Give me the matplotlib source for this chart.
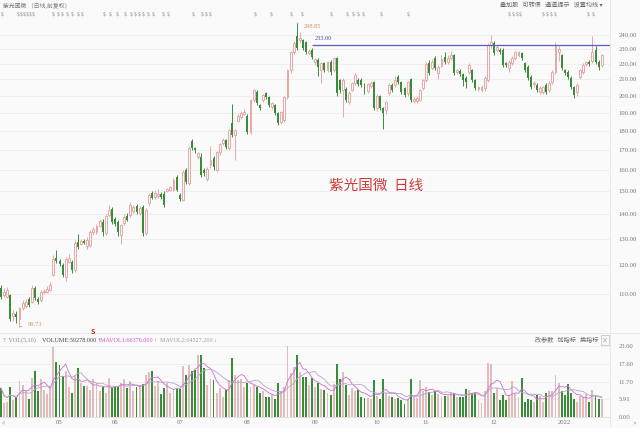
import numpy as np
import pandas as pd
import matplotlib
matplotlib.use('Agg')
import matplotlib.pyplot as plt
import matplotlib.transforms as mtransforms

plt.rcParams['font.family'] = ['Noto Sans CJK SC', 'DejaVu Sans']

# daily candles, 紫光国微, forward adjusted
opens = [112.2, 109.6, 109.2, 109.6, 102.9, 103.8, 102.0, 105.7, 106.3, 108.3,
         107.6, 112.2, 108.3, 108.0, 110.6, 110.9, 111.5, 116.7, 122.8, 121.6,
         120.2, 116.0, 121.3, 121.3, 118.4, 128.8, 128.0, 129.2, 127.3, 127.6,
         132.7, 132.7, 135.1, 136.8, 132.3, 139.7, 142.2, 138.0, 136.8, 131.5,
         136.4, 139.3, 139.7, 141.4, 143.5, 140.5, 143.1, 132.3, 144.8, 149.2,
         147.4, 147.9, 148.8, 148.8, 150.1, 150.6, 150.6, 156.5, 148.3, 146.1,
         159.9, 153.7, 174.4, 170.8, 166.4, 166.4, 159.9, 155.5, 162.3, 165.8,
         159.9, 168.7, 173.3, 174.9, 170.8, 184.1, 177.6, 185.3, 187.4, 189.3,
         188.0, 179.2, 197.3, 202.1, 194.3, 197.3, 201.5, 199.1, 193.1, 194.3,
         189.7, 184.7, 185.8, 199.1, 215.9, 227.9, 239.3, 236.4, 236.4, 235.0,
         227.2, 229.3, 221.2, 222.5, 215.9, 220.5, 215.9, 221.2, 215.9, 223.8,
         209.5, 203.3, 204.2, 196.1, 203.3, 207.7, 209.5, 209.5, 207.0, 202.7,
         205.8, 208.3, 192.6, 199.7, 192.6, 191.4, 201.5, 206.4, 206.4, 211.4,
         208.3, 204.5, 201.5, 210.2, 196.7, 196.7, 197.3, 204.5, 209.5, 220.5,
         217.1, 223.8, 213.9, 218.9, 224.5, 221.2, 223.8, 225.9, 214.6, 215.2,
         213.3, 210.8, 214.6, 215.9, 209.5, 203.9, 203.3, 204.5, 209.5, 232.8,
         234.3, 229.3, 229.3, 229.3, 220.5, 217.1, 220.5, 223.8, 225.9, 227.2,
         220.5, 217.8, 211.4, 207.0, 206.4, 202.1, 202.1, 206.4, 203.3, 208.3,
         214.6, 227.9, 225.9, 215.9, 214.6, 210.8, 205.1, 202.1, 211.4, 214.6,
         219.8, 221.2, 222.0, 229.3, 221.2, 219.2]
highs = [113.2, 112.0, 112.5, 110.2, 105.0, 104.5, 106.0, 108.0, 108.3, 109.0,
         113.0, 112.8, 109.0, 111.5, 111.8, 112.8, 114.0, 123.9, 125.7, 122.5,
         121.0, 123.0, 124.0, 122.0, 129.5, 132.0, 130.0, 129.8, 130.5, 133.5,
         134.5, 136.0, 138.0, 138.0, 140.0, 144.0, 143.0, 138.8, 137.5, 136.0,
         140.0, 140.5, 145.0, 143.8, 144.5, 143.5, 144.0, 142.5, 149.0, 150.0,
         150.5, 151.0, 149.5, 150.0, 151.5, 152.5, 156.0, 157.5, 149.0, 160.0,
         161.0, 172.0, 175.5, 171.5, 169.0, 168.5, 161.0, 161.5, 172.0, 167.0,
         169.5, 173.5, 176.0, 175.5, 181.0, 195.3, 181.0, 189.0, 191.0, 192.0,
         189.5, 198.0, 204.0, 203.5, 195.0, 201.0, 202.0, 200.0, 196.0, 195.0,
         190.5, 191.0, 200.0, 217.0, 229.0, 236.0, 248.85, 242.0, 237.5, 236.0,
         230.0, 230.5, 224.0, 224.0, 221.5, 221.5, 222.0, 222.5, 224.5, 224.5,
         210.5, 211.0, 205.0, 202.5, 208.5, 214.0, 211.0, 211.0, 208.0, 208.0,
         209.0, 209.0, 201.0, 200.5, 193.5, 197.0, 207.5, 207.5, 212.0, 213.0,
         209.0, 205.5, 209.0, 211.0, 199.0, 199.5, 204.0, 210.5, 221.0, 222.5,
         223.0, 225.0, 219.0, 226.0, 228.0, 226.0, 228.5, 227.0, 217.0, 216.5,
         214.0, 212.0, 220.5, 217.0, 210.5, 206.0, 206.5, 212.0, 234.0, 240.0,
         236.0, 233.0, 231.0, 230.5, 221.5, 222.5, 225.0, 229.0, 229.0, 228.0,
         221.5, 219.0, 212.5, 209.0, 207.5, 206.0, 206.0, 207.5, 209.0, 216.0,
         235.0, 232.0, 227.0, 217.0, 216.0, 212.0, 206.0, 207.5, 217.0, 220.5,
         222.0, 222.5, 239.5, 232.0, 222.5, 227.0]
lows = [108.3, 109.0, 108.9, 101.5, 101.5, 101.0, 99.73, 105.0, 105.5, 106.0,
        107.0, 108.0, 106.8, 107.5, 110.0, 110.5, 111.0, 116.3, 121.0, 119.8,
        116.0, 114.6, 120.8, 117.3, 117.8, 126.0, 127.5, 127.8, 126.0, 127.0,
        131.5, 132.0, 134.5, 131.0, 131.5, 139.0, 136.0, 135.0, 131.0, 128.0,
        135.5, 137.0, 139.0, 140.5, 140.0, 139.8, 131.0, 131.5, 144.0, 146.5,
        146.5, 147.0, 146.5, 143.0, 149.5, 150.0, 150.0, 150.0, 145.5, 145.5,
        153.5, 153.0, 170.0, 168.5, 165.5, 156.5, 157.0, 154.5, 161.0, 160.0,
        159.0, 167.5, 172.5, 170.5, 170.0, 176.5, 164.8, 184.5, 186.5, 188.5,
        178.0, 178.0, 196.0, 194.5, 191.5, 196.0, 198.0, 193.5, 192.0, 188.5,
        183.0, 183.5, 185.0, 198.0, 214.0, 227.0, 229.5, 234.0, 229.5, 227.0,
        226.0, 223.5, 219.5, 212.0, 208.0, 214.5, 214.5, 213.0, 215.0, 200.0,
        201.5, 187.4, 196.0, 195.0, 202.5, 206.5, 206.0, 205.5, 201.0, 201.5,
        204.5, 191.5, 191.0, 191.5, 181.1, 189.5, 200.5, 202.0, 205.0, 207.0,
        201.0, 199.0, 200.0, 196.0, 195.5, 195.5, 196.5, 203.5, 208.5, 213.0,
        216.0, 216.0, 210.0, 218.0, 220.0, 220.0, 222.5, 213.0, 213.5, 212.0,
        206.0, 204.5, 213.5, 208.5, 203.5, 202.5, 202.0, 203.0, 208.5, 231.0,
        226.0, 228.0, 226.5, 218.0, 218.0, 214.5, 219.5, 222.5, 224.5, 222.5,
        214.5, 209.5, 204.0, 205.5, 202.0, 201.0, 201.0, 201.0, 202.0, 207.0,
        213.5, 222.0, 216.0, 212.5, 210.0, 204.0, 198.5, 200.0, 210.0, 213.5,
        218.5, 218.5, 220.5, 220.0, 216.0, 218.0]
closes = [109.2, 110.9, 111.5, 102.0, 104.1, 102.6, 105.4, 107.3, 107.6, 106.6,
          112.2, 108.9, 107.6, 110.6, 111.2, 111.8, 113.2, 122.4, 121.6, 120.6,
          116.7, 122.4, 122.8, 118.4, 128.4, 126.9, 129.2, 128.4, 129.6, 132.7,
          133.9, 135.1, 137.2, 132.7, 139.3, 141.8, 136.8, 135.9, 132.7, 135.5,
          138.9, 137.6, 143.9, 143.1, 140.9, 142.6, 132.3, 141.8, 148.3, 147.0,
          149.2, 148.8, 147.4, 143.9, 151.0, 152.0, 155.1, 150.6, 146.6, 158.9,
          154.2, 170.8, 170.8, 169.8, 168.2, 157.5, 158.4, 160.4, 164.8, 161.3,
          168.7, 172.8, 174.9, 171.3, 180.3, 177.6, 180.3, 188.0, 189.9, 190.5,
          179.2, 197.3, 203.3, 195.5, 192.6, 200.3, 199.1, 194.3, 195.5, 189.7,
          184.1, 190.3, 199.1, 215.9, 227.9, 234.3, 230.7, 237.8, 230.7, 227.9,
          228.6, 224.5, 223.1, 217.8, 220.5, 215.9, 221.2, 214.6, 223.8, 201.5,
          203.3, 209.5, 197.3, 201.5, 207.7, 212.7, 207.0, 206.4, 202.1, 207.0,
          207.7, 192.6, 199.7, 192.6, 189.7, 196.1, 206.4, 203.3, 209.5, 208.3,
          202.1, 200.3, 208.3, 197.3, 197.9, 198.5, 203.3, 209.5, 219.8, 213.9,
          221.2, 217.1, 217.8, 223.1, 221.2, 223.8, 225.9, 213.9, 215.9, 213.3,
          209.5, 208.3, 219.2, 209.5, 204.5, 205.1, 205.1, 210.8, 232.8, 235.0,
          227.2, 231.4, 227.9, 219.2, 219.2, 221.2, 223.8, 227.9, 227.9, 223.8,
          215.9, 210.8, 205.1, 207.7, 203.3, 204.5, 205.1, 202.1, 207.7, 214.6,
          232.8, 230.0, 217.1, 213.9, 211.4, 205.1, 200.3, 206.4, 215.9, 219.2,
          221.2, 219.8, 228.0, 221.2, 217.8, 225.9]
# volume in 10k shares
volumes = [9.6, 4.7, 5.0, 9.9, 5.7, 6.7, 12.0, 10.6, 8.5, 6.0,
           12.8, 15.3, 8.5, 12.5, 8.9, 7.6, 9.9, 23.2, 18.3, 17.3,
           13.6, 15.4, 9.9, 7.9, 14.0, 16.2, 11.2, 10.3, 10.3, 8.9,
           12.5, 11.2, 8.5, 9.9, 7.9, 12.9, 9.5, 10.1, 10.1, 11.2,
           12.6, 9.5, 11.8, 8.7, 9.9, 10.6, 10.9, 14.0, 15.0, 15.4,
           10.4, 11.8, 7.7, 9.5, 11.2, 8.1, 9.2, 9.2, 9.2, 16.9,
           14.0, 17.3, 15.4, 15.6, 20.6, 20.6, 16.2, 10.6, 12.5, 12.3,
           7.9, 9.5, 6.7, 8.9, 12.3, 19.5, 14.0, 12.3, 12.5, 9.9,
           11.4, 9.9, 10.6, 9.9, 7.9, 8.7, 6.7, 6.6, 7.7, 5.9,
           11.2, 8.7, 9.9, 23.6, 14.7, 16.7, 20.6, 15.0, 13.2, 13.4,
           10.6, 12.8, 9.9, 11.2, 9.2, 8.9, 7.9, 7.3, 10.9, 17.5,
           12.5, 14.8, 10.6, 7.3, 9.5, 8.6, 9.0, 6.6, 6.2, 6.3,
           5.9, 12.4, 7.1, 6.0, 12.5, 7.9, 7.1, 6.6, 5.9, 6.3,
           5.7, 4.3, 5.9, 12.5, 6.7, 6.2, 12.3, 8.5, 9.8, 8.4,
           7.4, 8.7, 7.7, 6.5, 7.1, 7.1, 8.3, 7.9, 6.6, 6.6,
           6.7, 9.2, 8.9, 7.9, 8.1, 5.7, 4.6, 8.7, 17.9, 17.5,
           7.9, 9.5, 5.7, 7.3, 5.7, 7.3, 12.0, 7.6, 6.7, 12.8,
           5.1, 5.9, 5.7, 5.1, 7.3, 6.9, 5.1, 7.9, 8.5, 8.5,
           14.0, 11.2, 8.5, 7.3, 10.9, 7.9, 6.0, 5.0, 7.0, 6.5,
           7.5, 5.0, 9.0, 7.1, 6.0, 5.93]

month_pos = [19, 37, 58, 80, 102, 122, 138, 160, 183]
month_labels = ['05', '06', '07', '08', '09', '10', '11', '12', '2022']
price_ticks = [110, 120, 130, 140, 150, 160, 170, 180, 190, 200, 210, 220, 230, 240]
vol_ticks = [0.0, 5.91, 11.70, 17.60, 23.60]
level_line = 233.00
hi_idx, hi_val = 96, 248.85
lo_idx, lo_val = 6, 99.73
# days carrying an event mark in the strip above the candles
event_days = [0.5, 5.5, 6.5, 7.5, 8.5, 9.5, 10.5, 17, 18.5, 20, 21.4, 23, 25, 26.5,
              33.4, 35.4, 37.7, 40.3, 42.2, 43.5, 45, 46.1, 47.7, 49.4, 52.6, 54.2,
              62.3, 65.3, 66.6, 67.9, 82.5, 87.7, 94.2, 97.7, 107.1, 112.3, 114.3,
              115.9, 117.5, 123.4, 132.1, 164.9, 166.2, 167.5, 168.5, 176, 177.3,
              178.6, 179.9, 190.6, 192.2]

W, H = 640, 428
bg = '#fafafa'
up_col = '#e6a8a8'
dn_col = '#3a8c3a'
vol_up = '#e0bcbc'


def fx(px):
    return px / W


def fy(py):
    return 1 - py / H


fig = plt.figure(figsize=(6.4, 4.28), dpi=100, facecolor=bg)
ax = fig.add_axes([0, fy(333), fx(610), (333 - 20) / H], facecolor=bg)
axv = fig.add_axes([0, fy(417), fx(610), (417 - 344) / H], facecolor=bg)

x = np.arange(len(closes))
o = np.array(opens)
c = np.array(closes)
hi = np.array(highs)
lo = np.array(lows)
up = c >= o

# price panel
ax.set_yscale('log')
ax.set_xlim(-0.32, 197.7)
ax.set_ylim(97.9, 251.1)
for p in price_ticks:
    ax.axhline(p, color='#eeeeee', lw=0.6, zorder=0)
ax.vlines(x, lo, hi, colors=np.where(up, up_col, dn_col), lw=0.7, zorder=2)
ax.bar(x[up], c[up] - o[up], bottom=o[up], width=0.62, facecolor=bg,
       edgecolor=up_col, lw=0.7, zorder=3)
ax.bar(x[~up], o[~up] - c[~up], bottom=c[~up], width=0.62, color=dn_col,
       lw=0, zorder=3)

ax.hlines(level_line, 100.9, 197.7, color='#5b5bc4', lw=0.9, zorder=4)
ax.text(102.0, level_line * 1.012, '%.2f' % level_line, color='#4a4ab8',
        fontsize=4.6, family='Liberation Serif', va='bottom', ha='left')
ax.annotate('%.2f' % hi_val, xy=(hi_idx, hi_val), xytext=(hi_idx + 2.3, hi_val * 0.99),
            color='#d8905a', fontsize=4.6, family='Liberation Serif', va='center',
            arrowprops=dict(arrowstyle='-', color='#d8905a', lw=0.5))
ax.annotate('%.2f' % lo_val, xy=(lo_idx, lo_val), xytext=(lo_idx + 2.6, lo_val * 1.006),
            color='#d8905a', fontsize=4.6, family='Liberation Serif', va='center',
            arrowprops=dict(arrowstyle='-', color='#d8905a', lw=0.5))

ax.text(0.617, 0.47, '紫光国微  日线', transform=ax.transAxes, color='#d23a3a',
        fontsize=10.5, ha='center', va='center')

# event strip
strip = mtransforms.blended_transform_factory(ax.transData, ax.transAxes)
for d in event_days:
    ax.text(d, 1.016, '$', transform=strip, fontsize=3.4, color='#8c8c8c',
            ha='center', va='center', family='DejaVu Sans', clip_on=False)

ax.yaxis.tick_right()
ax.set_yticks(price_ticks)
ax.set_yticks([], minor=True)
ax.set_yticklabels(['%.2f' % p for p in price_ticks], family='Liberation Serif',
                   fontsize=4.8, color='#777777')
ax.tick_params(axis='y', length=0, pad=6)
ax.set_xticks([])
for s in ax.spines.values():
    s.set_visible(False)

# volume panel
vol = pd.Series(volumes)
axv.set_xlim(-0.32, 197.7)
axv.set_ylim(0, 24.25)
for v in vol_ticks[1:]:
    axv.axhline(v, color='#eeeeee', lw=0.6, zorder=0)
axv.bar(x, vol, width=0.62, color=np.where(up, vol_up, dn_col), lw=0, zorder=2)
axv.plot(x, vol.rolling(5, min_periods=1).mean(), color='#d36ad3', lw=0.6, zorder=3)
axv.plot(x, vol.rolling(10, min_periods=1).mean(), color='#b3a6c6', lw=0.6, zorder=3)
axv.yaxis.tick_right()
axv.set_yticks(vol_ticks)
axv.set_yticklabels(['%.2f' % v for v in vol_ticks], family='Liberation Serif',
                    fontsize=4.8, color='#777777')
axv.tick_params(axis='y', length=0, pad=6)
axv.set_xticks(month_pos)
axv.set_xticklabels(month_labels, family='Liberation Serif', fontsize=4.8, color='#777777')
axv.tick_params(axis='x', length=0, pad=2)
for s in axv.spines.values():
    s.set_visible(False)
axv.spines['bottom'].set_visible(True)
axv.spines['bottom'].set_color('#dddddd')
axv.spines['bottom'].set_linewidth(0.6)

# frame lines
fig.add_artist(plt.Line2D([fx(610), fx(610)], [0, 1], color='#e6e6e6', lw=0.6))
fig.add_artist(plt.Line2D([0, 1], [fy(333), fy(333)], color='#e6e6e6', lw=0.6))

# header texts
fig.text(fx(3), fy(6), '紫光国微 （日线,前复权）', fontsize=4.2, color='#777777', va='center')
fig.text(fx(603), fy(5), '叠加股   可转债   通道提示   设置均线 ▾', fontsize=4.4,
         color='#666666', va='center', ha='right')
fig.text(fx(3), fy(340), '?  VOL(5,10)', fontsize=4.4, color='#888888', va='center',
         family='Liberation Serif')
fig.text(fx(42), fy(340), 'VOLUME:59278.000 ↑', fontsize=4.4, color='#444444',
         va='center', family=['Liberation Serif', 'DejaVu Sans'])
fig.text(fx(100), fy(340), 'MAVOL1:66376.000 ↑', fontsize=4.4, color='#cc55cc',
         va='center', family=['Liberation Serif', 'DejaVu Sans'])
fig.text(fx(160), fy(340), 'MAVOL2:64527.200 ↓', fontsize=4.4, color='#9a9aaa',
         va='center', family=['Liberation Serif', 'DejaVu Sans'])
fig.text(fx(598), fy(340), '改参数   加指标   换指标', fontsize=4.4, color='#666666',
         va='center', ha='right')
fig.text(fx(605), fy(340), '×', fontsize=4.4, color='#888888', va='center', ha='center',
         bbox=dict(boxstyle='square,pad=0.15', fc='none', ec='#bbbbbb', lw=0.5))
fig.text(fx(2), fy(423), '«', fontsize=5, color='#999999', va='center')
fig.text(fx(633), fy(423), '»', fontsize=5, color='#999999', va='center')
fig.text(fx(93), fy(331), 'S', fontsize=5, color='#d02020', weight='bold',
         va='center', ha='center')

fig.savefig('out.png', dpi=100, facecolor=bg)
